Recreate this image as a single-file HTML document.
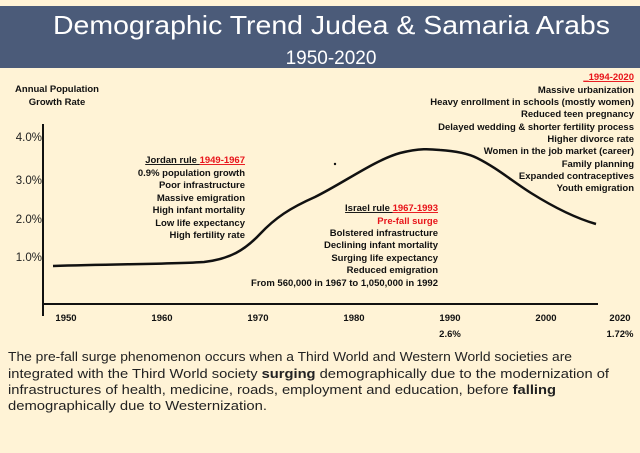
<!DOCTYPE html>
<html><head><meta charset="utf-8"><style>
body{margin:0;width:640px;height:453px;background:#fff3d6;overflow:hidden}
svg{display:block}
.b{font-family:"Liberation Sans",sans-serif;font-weight:bold;font-size:9.5px;fill:#111}
.r{fill:#e8141a}
</style></head><body>
<svg width="640" height="453" viewBox="0 0 640 453">
<rect x="0" y="0" width="640" height="453" fill="#fff3d6"/>
<rect x="0" y="6" width="640" height="62" fill="#4b5b79"/>
<text x="53" y="34" font-family="Liberation Sans,sans-serif" font-size="26" fill="#fff" textLength="557" lengthAdjust="spacingAndGlyphs">Demographic Trend Judea &amp; Samaria Arabs</text>
<text x="331" y="64" text-anchor="middle" font-family="Liberation Sans,sans-serif" font-size="19" fill="#fff">1950-2020</text>

<text class="b" x="57" y="92" text-anchor="middle">Annual Population</text>
<text class="b" x="57" y="105" text-anchor="middle">Growth Rate</text>

<g font-family="Liberation Sans,sans-serif" font-size="11.5" fill="#222" text-anchor="end">
<text x="42" y="141">4.0%</text><text x="42" y="184">3.0%</text><text x="42" y="223">2.0%</text><text x="42" y="261">1.0%</text>
</g>
<line x1="43" y1="124" x2="43" y2="316" stroke="#111" stroke-width="2"/>
<line x1="43" y1="304" x2="598" y2="304" stroke="#111" stroke-width="2"/>
<path d="M53,266 C120,264 175,264 204,262 C230,259 245,250 260,234 C275,218 290,208 315,197 C345,182 375,160 400,153 C420,148 430,149 440,150 C455,151 467,153 477,158 C497,168 512,181 531,193 C555,208 575,218 596,224" fill="none" stroke="#111" stroke-width="2.5"/>
<circle cx="335" cy="164" r="1.2" fill="#111"/>

<g class="b" text-anchor="middle">
<text x="66" y="321">1950</text><text x="162" y="321">1960</text><text x="258" y="321">1970</text><text x="354" y="321">1980</text><text x="450" y="321">1990</text><text x="546" y="321">2000</text><text x="620" y="321">2020</text>
<text x="450" y="337">2.6%</text><text x="620" y="337">1.72%</text>
</g>

<g class="b" text-anchor="end">
<text x="245" y="163"><tspan text-decoration="underline">Jordan rule </tspan><tspan class="r" text-decoration="underline">1949-1967</tspan></text>
<text x="245" y="176">0.9% population growth</text>
<text x="245" y="188">Poor infrastructure</text>
<text x="245" y="201">Massive emigration</text>
<text x="245" y="213">High infant mortality</text>
<text x="245" y="226">Low life expectancy</text>
<text x="245" y="238">High fertility rate</text>

<text x="438" y="211"><tspan text-decoration="underline">Israel rule </tspan><tspan class="r" text-decoration="underline">1967-1993</tspan></text>
<text x="438" y="224" class="r">Pre-fall surge</text>
<text x="438" y="236">Bolstered infrastructure</text>
<text x="438" y="248">Declining infant mortality</text>
<text x="438" y="261">Surging life expectancy</text>
<text x="438" y="273">Reduced emigration</text>
<text x="438" y="286">From 560,000 in 1967 to 1,050,000 in 1992</text>

<text x="634" y="80" class="r" text-decoration="underline">_1994-2020</text>
<text x="634" y="93">Massive urbanization</text>
<text x="634" y="105">Heavy enrollment in schools (mostly women)</text>
<text x="634" y="117">Reduced teen pregnancy</text>
<text x="634" y="130">Delayed wedding &amp; shorter fertility process</text>
<text x="634" y="142">Higher divorce rate</text>
<text x="634" y="154">Women in the job market (career)</text>
<text x="634" y="167">Family planning</text>
<text x="634" y="179">Expanded contraceptives</text>
<text x="634" y="191">Youth emigration</text>
</g>

<g font-family="Liberation Sans,sans-serif" font-size="13" fill="#222">
<text x="8" y="361" textLength="564" lengthAdjust="spacingAndGlyphs">The pre-fall surge phenomenon occurs when a Third World and Western World societies are</text>
<text x="8" y="378" textLength="601" lengthAdjust="spacingAndGlyphs">integrated with the Third World society <tspan font-weight="bold">surging</tspan> demographically due to the modernization of</text>
<text x="8" y="394" textLength="548" lengthAdjust="spacingAndGlyphs">infrastructures of health, medicine, roads, employment and education, before <tspan font-weight="bold">falling</tspan></text>
<text x="8" y="410" textLength="259" lengthAdjust="spacingAndGlyphs">demographically due to Westernization.</text>
</g>
</svg>
</body></html>
